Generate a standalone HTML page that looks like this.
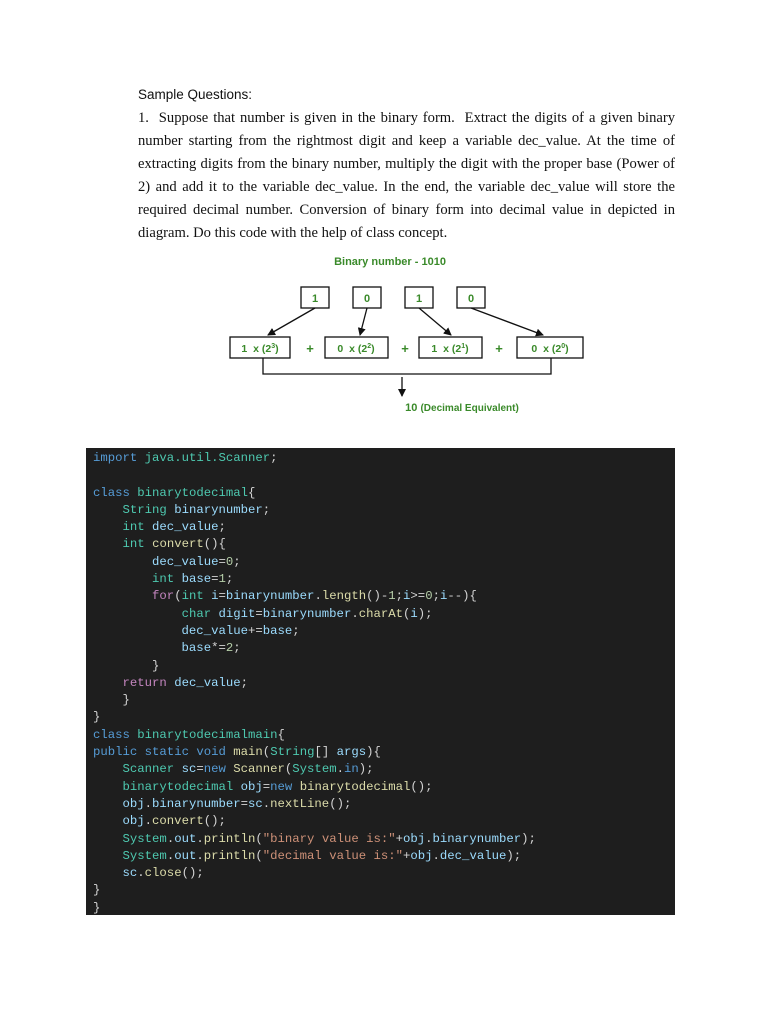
<!DOCTYPE html>
<html><head><meta charset="utf-8"><style>
html,body{margin:0;padding:0;background:#fff;width:768px;height:1024px;overflow:hidden;position:relative}
.t{position:absolute;left:138px;width:537px;font-family:"Liberation Serif",serif;font-size:14.6px;color:#111;text-align:justify;text-align-last:justify;white-space:nowrap;line-height:23px}
.h{position:absolute;left:138px;top:87px;font-family:"Liberation Sans",sans-serif;font-size:13.5px;color:#111}
.code{position:absolute;left:86px;top:448px;width:589px;height:467px;background:#1e1e1e}
.code pre{margin:0;position:absolute;left:7px;top:2px;font-family:"Liberation Mono",monospace;font-size:12.3px;line-height:17.3px;color:#9cdcfe}
.k{color:#569cd6}.c{color:#4ec9b0}.f{color:#dcdcaa}.n{color:#b5cea8}.s{color:#ce9178}.p{color:#c586c0}.w{color:#d4d4d4}
</style></head><body>
<div class="h">Sample Questions:</div>
<div class="t" style="top:107px">1.&nbsp; Suppose that number is given in the binary form.&nbsp; Extract the digits of a given binary</div>
<div class="t" style="top:130px">number starting from the rightmost digit and keep a variable dec_value. At the time of</div>
<div class="t" style="top:153px">extracting digits from the binary number, multiply the digit with the proper base (Power of</div>
<div class="t" style="top:176px">2) and add it to the variable dec_value. In the end, the variable dec_value will store the</div>
<div class="t" style="top:199px">required decimal number. Conversion of binary form into decimal value in depicted in</div>
<div class="t" style="top:222px;text-align-last:left">diagram. Do this code with the help of class concept.</div>

<svg style="position:absolute;left:0;top:0" width="768" height="440" font-family="Liberation Sans,sans-serif" font-weight="bold">
<defs><marker id="a" markerWidth="8" markerHeight="8" refX="7" refY="4" orient="auto" markerUnits="userSpaceOnUse"><path d="M0,0 L8,4 L0,8z" fill="#111"/></marker></defs>
<text x="390" y="265" text-anchor="middle" font-size="11" fill="#3a8a2a">Binary number - 1010</text>
<g fill="#fff" stroke="#111" stroke-width="1.3">
<rect x="301" y="287" width="28" height="21"/><rect x="353" y="287" width="28" height="21"/><rect x="405" y="287" width="28" height="21"/><rect x="457" y="287" width="28" height="21"/>
<rect x="230" y="337" width="60" height="21"/><rect x="325" y="337" width="63" height="21"/><rect x="419" y="337" width="63" height="21"/><rect x="517" y="337" width="66" height="21"/>
</g>
<g font-size="11" fill="#3a8a2a" text-anchor="middle">
<text x="315" y="302">1</text><text x="367" y="302">0</text><text x="419" y="302">1</text><text x="471" y="302">0</text>
<text x="260" y="352" font-size="10.5" xml:space="preserve">1  x (2<tspan dy="-4" font-size="7">3</tspan><tspan dy="4">)</tspan></text>
<text x="356" y="352" font-size="10.5" xml:space="preserve">0  x (2<tspan dy="-4" font-size="7">2</tspan><tspan dy="4">)</tspan></text>
<text x="450" y="352" font-size="10.5" xml:space="preserve">1  x (2<tspan dy="-4" font-size="7">1</tspan><tspan dy="4">)</tspan></text>
<text x="550" y="352" font-size="10.5" xml:space="preserve">0  x (2<tspan dy="-4" font-size="7">0</tspan><tspan dy="4">)</tspan></text>
<text x="310" y="353" font-size="13">+</text><text x="405" y="353" font-size="13">+</text><text x="499" y="353" font-size="13">+</text>
<text x="462" y="411" font-size="11">10 <tspan font-size="10">(Decimal Equivalent)</tspan></text>
</g>
<g stroke="#111" stroke-width="1.3" fill="none">
<line x1="315" y1="308" x2="268" y2="335" marker-end="url(#a)"/>
<line x1="367" y1="308" x2="360" y2="335" marker-end="url(#a)"/>
<line x1="419" y1="308" x2="451" y2="335" marker-end="url(#a)"/>
<line x1="471" y1="308" x2="543" y2="335" marker-end="url(#a)"/>
<polyline points="263,358 263,374 551,374 551,358"/>
<line x1="402" y1="377" x2="402" y2="396" marker-end="url(#a)"/>
</g>
</svg>

<div class="code"><pre><span class="k">import</span> <span class="c">java.util.Scanner</span><span class="w">;</span>

<span class="k">class</span> <span class="c">binarytodecimal</span><span class="w">{</span>
    <span class="c">String</span> binarynumber<span class="w">;</span>
    <span class="c">int</span> dec_value<span class="w">;</span>
    <span class="c">int</span> <span class="f">convert</span><span class="w">(){</span>
        dec_value<span class="w">=</span><span class="n">0</span><span class="w">;</span>
        <span class="c">int</span> base<span class="w">=</span><span class="n">1</span><span class="w">;</span>
        <span class="p">for</span><span class="w">(</span><span class="c">int</span> i<span class="w">=</span>binarynumber<span class="w">.</span><span class="f">length</span><span class="w">()-</span><span class="n">1</span><span class="w">;</span>i<span class="w">&gt;=</span><span class="n">0</span><span class="w">;</span>i<span class="w">--){</span>
            <span class="c">char</span> digit<span class="w">=</span>binarynumber<span class="w">.</span><span class="f">charAt</span><span class="w">(</span>i<span class="w">);</span>
            dec_value<span class="w">+=</span>base<span class="w">;</span>
            base<span class="w">*=</span><span class="n">2</span><span class="w">;</span>
        <span class="w">}</span>
    <span class="p">return</span> dec_value<span class="w">;</span>
    <span class="w">}</span>
<span class="w">}</span>
<span class="k">class</span> <span class="c">binarytodecimalmain</span><span class="w">{</span>
<span class="k">public</span> <span class="k">static</span> <span class="k">void</span> <span class="f">main</span><span class="w">(</span><span class="c">String</span><span class="w">[]</span> args<span class="w">){</span>
    <span class="c">Scanner</span> sc<span class="w">=</span><span class="k">new</span> <span class="f">Scanner</span><span class="w">(</span><span class="c">System</span><span class="w">.</span><span class="k">in</span><span class="w">);</span>
    <span class="c">binarytodecimal</span> obj<span class="w">=</span><span class="k">new</span> <span class="f">binarytodecimal</span><span class="w">();</span>
    obj<span class="w">.</span>binarynumber<span class="w">=</span>sc<span class="w">.</span><span class="f">nextLine</span><span class="w">();</span>
    obj<span class="w">.</span><span class="f">convert</span><span class="w">();</span>
    <span class="c">System</span><span class="w">.</span>out<span class="w">.</span><span class="f">println</span><span class="w">(</span><span class="s">"binary value is:"</span><span class="w">+</span>obj<span class="w">.</span>binarynumber<span class="w">);</span>
    <span class="c">System</span><span class="w">.</span>out<span class="w">.</span><span class="f">println</span><span class="w">(</span><span class="s">"decimal value is:"</span><span class="w">+</span>obj<span class="w">.</span>dec_value<span class="w">);</span>
    sc<span class="w">.</span><span class="f">close</span><span class="w">();</span>
<span class="w">}</span>
<span class="w">}</span></pre></div>
</body></html>
